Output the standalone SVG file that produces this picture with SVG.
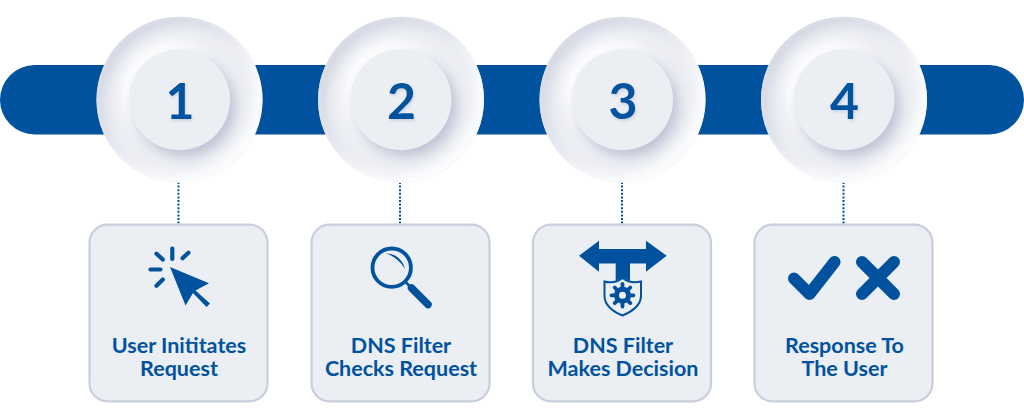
<svg xmlns="http://www.w3.org/2000/svg" xmlns:xlink="http://www.w3.org/1999/xlink" width="1024" height="418" viewBox="0 0 1024 418">
<style>
.card{fill:#ebeef2;stroke:#c9cedd;stroke-width:2.2}
.lbl{font-family:Lato,"Open Sans",sans-serif;font-weight:700;font-size:21.5px;fill:#00529f;text-anchor:middle}
.num{font-family:Lato,"Open Sans",sans-serif;font-weight:700;font-size:50px;fill:#00529f;text-anchor:middle;filter:url(#numShadow)}
.dot{stroke:#00529f;stroke-width:2;stroke-dasharray:2 1.6;fill:none}
.ic{fill:#00529f}
.st{fill:none;stroke:#00529f;stroke-linecap:round}
</style>
<defs>
<filter id="b6" x="-30%" y="-30%" width="160%" height="160%"><feGaussianBlur stdDeviation="6"/></filter>
<filter id="numShadow" x="-30%" y="-30%" width="160%" height="160%"><feDropShadow dx="1" dy="2" stdDeviation="1.5" flood-color="#8d99b8" flood-opacity=".3"/></filter>
<clipPath id="outerClip"><circle r="83"/></clipPath>
<g id="disc">
<circle r="83" fill="#eceef3"/>
<g clip-path="url(#outerClip)">
<circle cx="6" cy="6" r="88" fill="none" stroke="#d0d3e1" stroke-width="12" filter="url(#b6)"/>
<circle cx="-7" cy="-7" r="90" fill="none" stroke="#ffffff" stroke-width="14" filter="url(#b6)"/>
<circle cx="-6" cy="-6" r="52" fill="#ffffff" filter="url(#b6)"/>
<circle cx="5" cy="6" r="51" fill="#c0c3d6" filter="url(#b6)"/>
</g>
<circle r="50.5" fill="#ebeef2"/>
</g>
</defs>
<g id="bar"><rect x="0" y="65" width="1024" height="69.5" rx="34.7" fill="#00529f"/></g>
<g id="connectors">
<path class="dot" d="M178.500 182V224M400 182V224M622 182V224M843.500 182V224"/>
</g>
<g id="node1">
<use href="#disc" transform="translate(179.500 99.700)"/>
<text class="num" x="180" y="119">1</text>
<rect class="card" x="89.500" y="224.700" width="178" height="176.600" rx="18"/>
<path class="st" stroke-width="4.200" d="M172.300 248.500V259M156.500 253.700L162.800 259.500M188.500 252.800L182.500 258.200M150.500 269.500H160.500M156.500 285.700L162.800 279.500"/>
<path class="ic" d="M170 267L209 283.300L195.500 290.500L210 303.500L206.500 307L193 293L185.500 305.500Z"/>
<text class="lbl" x="179" y="352.500">User Inititates</text>
<text class="lbl" x="179" y="375.500">Request</text>
</g>
<g id="node2">
<use href="#disc" transform="translate(401 99.700)"/>
<text class="num" x="401.500" y="119">2</text>
<rect class="card" x="311.500" y="224.700" width="178" height="176.600" rx="18"/>
<circle cx="391.700" cy="267.700" r="19.200" fill="none" stroke="#00529f" stroke-width="3.800"/>
<path d="M386 253.500C395 253 403 260 405 269C400 261 394 256 386 253.500Z" class="ic"/>
<path class="st" stroke-width="2.500" d="M406.500 283L410 286.500"/>
<path class="st" stroke-width="7.500" d="M411.500 288L428 304.500"/>
<text class="lbl" x="401" y="352.500">DNS Filter</text>
<text class="lbl" x="401" y="375.500">Checks Request</text>
</g>
<g id="node3">
<use href="#disc" transform="translate(622.500 99.700)"/>
<text class="num" x="623" y="119">3</text>
<rect class="card" x="533" y="224.700" width="178" height="176.600" rx="18"/>
<path class="ic" d="M579 255.700L599 240.700V249H646V240.700L666.700 255.700L646 271.700V263.500H630V281L622.500 277.500L615.700 281V263.500H599V271.700Z"/>
<path d="M622.500 278C616 283 610 283 604.500 281.500V296C604.500 305 613 312 622.500 315.500C632 312 641 305 641 296V281.500C635 283 629 283 622.500 278Z" fill="none" stroke="#00529f" stroke-width="2"/>
<circle cx="622.500" cy="295.300" r="6" fill="none" stroke="#00529f" stroke-width="5"/>
<path class="st" stroke-width="3.800" stroke-linecap="butt" d="M622.500 284V288M622.500 302.500V306.500M611.500 295.300H615.500M629.500 295.300H633.500M614.700 287.500L617.500 290.300M627.500 300.300L630.300 303.100M630.300 287.500L627.500 290.300M617.500 300.300L614.700 303.100"/>
<text class="lbl" x="623" y="352.500">DNS Filter</text>
<text class="lbl" x="623" y="375.500">Makes Decision</text>
</g>
<g id="node4">
<use href="#disc" transform="translate(844 99.700)"/>
<text class="num" x="844.500" y="119">4</text>
<rect class="card" x="754.500" y="224.700" width="178" height="176.600" rx="18"/>
<path class="st" stroke-width="12" stroke-linejoin="round" d="M794 278.500L809.500 294L834.500 262"/>
<path class="st" stroke-width="12" d="M862 262L894 294M894 262L862 294"/>
<text class="lbl" x="844.500" y="352.500">Response To</text>
<text class="lbl" x="844.500" y="375.500">The User</text>
</g>
</svg>
